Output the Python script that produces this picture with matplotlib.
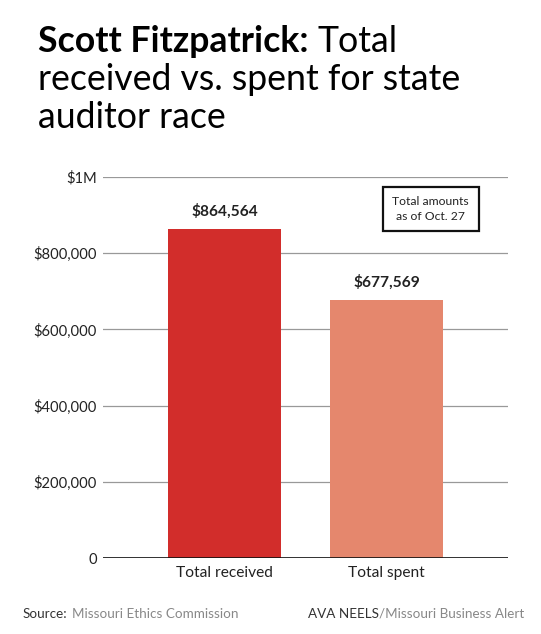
import matplotlib.pyplot as plt
from matplotlib.ticker import FuncFormatter

# Datos del gráfico
categories = ["Total received", "Total spent"]
amounts = [864564, 677569]
bar_colors = ["#D22D2B", "#E5876D"]
y_ticks = [0, 200000, 400000, 600000, 800000, 1000000]

plt.rcParams["font.family"] = ["Lato", "DejaVu Sans"]

W, H = 541, 634
fig = plt.figure(figsize=(W / 100, H / 100), dpi=100)

# Ejes en coordenadas de píxeles
ax_left, ax_right = 103, 508
ax_top, ax_bottom = 177, 558
ax = fig.add_axes([ax_left / W, 1 - ax_bottom / H,
                   (ax_right - ax_left) / W, (ax_bottom - ax_top) / H])

x = list(range(len(categories)))
ax.bar(x, amounts, width=0.70, color=bar_colors, zorder=3)
ax.set_xlim(-0.75, 1.75)
ax.set_ylim(0, 1000000)

def money(v, pos=None):
    if v == 0:
        return "0"
    if v == 1000000:
        return "$1M"
    return "${:,.0f}".format(v)

ax.set_yticks(y_ticks)
ax.yaxis.set_major_formatter(FuncFormatter(money))
ax.set_xticks(x)
ax.set_xticklabels(categories)
ax.tick_params(axis="y", length=0, pad=4.5, labelsize=10.6, colors="#222222")
ax.tick_params(axis="x", length=0, pad=6, labelsize=11.2, colors="#222222")
ax.grid(axis="y", color="#999999", linewidth=0.9, zorder=0)
for s in ax.spines.values():
    s.set_visible(False)
ax.axhline(0, color="#111111", linewidth=1.2, zorder=4)

for xi, v in zip(x, amounts):
    ax.annotate("${:,.0f}".format(v), (xi, v), xytext=(0, 7), textcoords="offset points",
                ha="center", va="bottom", fontsize=11.2, fontweight="bold", color="#222222")

# Recuadro de nota
ax.text(1.272, 916000, "Total amounts\nas of Oct. 27", ha="center", va="center",
        fontsize=8.7, color="#222222", linespacing=1.35,
        bbox=dict(boxstyle="square,pad=0.8", facecolor="white", edgecolor="#111111", linewidth=1.6),
        zorder=5)

# Título con parte en negrita
fig.canvas.draw()
r = fig.canvas.get_renderer()
tsize = 25.7
tx, ty = 38 / W, 1 - 52 / H
t1 = fig.text(tx, ty, "Scott Fitzpatrick:", fontsize=tsize, fontweight="bold", color="black", va="baseline")
bb = t1.get_window_extent(renderer=r)
fig.text(bb.x1 / W + 9 / W, ty, "Total", fontsize=tsize, color="black", va="baseline")
fig.text(tx, 1 - 90 / H, "received vs. spent for state", fontsize=tsize, color="black", va="baseline")
fig.text(tx, 1 - 128 / H, "auditor race", fontsize=tsize, color="black", va="baseline")

# Pie de página
fsize = 9.7
fy = 1 - 618 / H
s1 = fig.text(23 / W, fy, "Source:", fontsize=fsize, color="#333333", va="baseline")
bb = s1.get_window_extent(renderer=r)
fig.text(bb.x1 / W + 4 / W, fy, "Missouri Ethics Commission", fontsize=fsize, color="#888888", va="baseline")
s2 = fig.text(524 / W, fy, "/Missouri Business Alert", fontsize=fsize, color="#888888", va="baseline", ha="right")
bb = s2.get_window_extent(renderer=r)
fig.text(bb.x0 / W, fy, "AVA NEELS", fontsize=fsize, color="#333333", va="baseline", ha="right")

fig.savefig("out.png", dpi=100)
